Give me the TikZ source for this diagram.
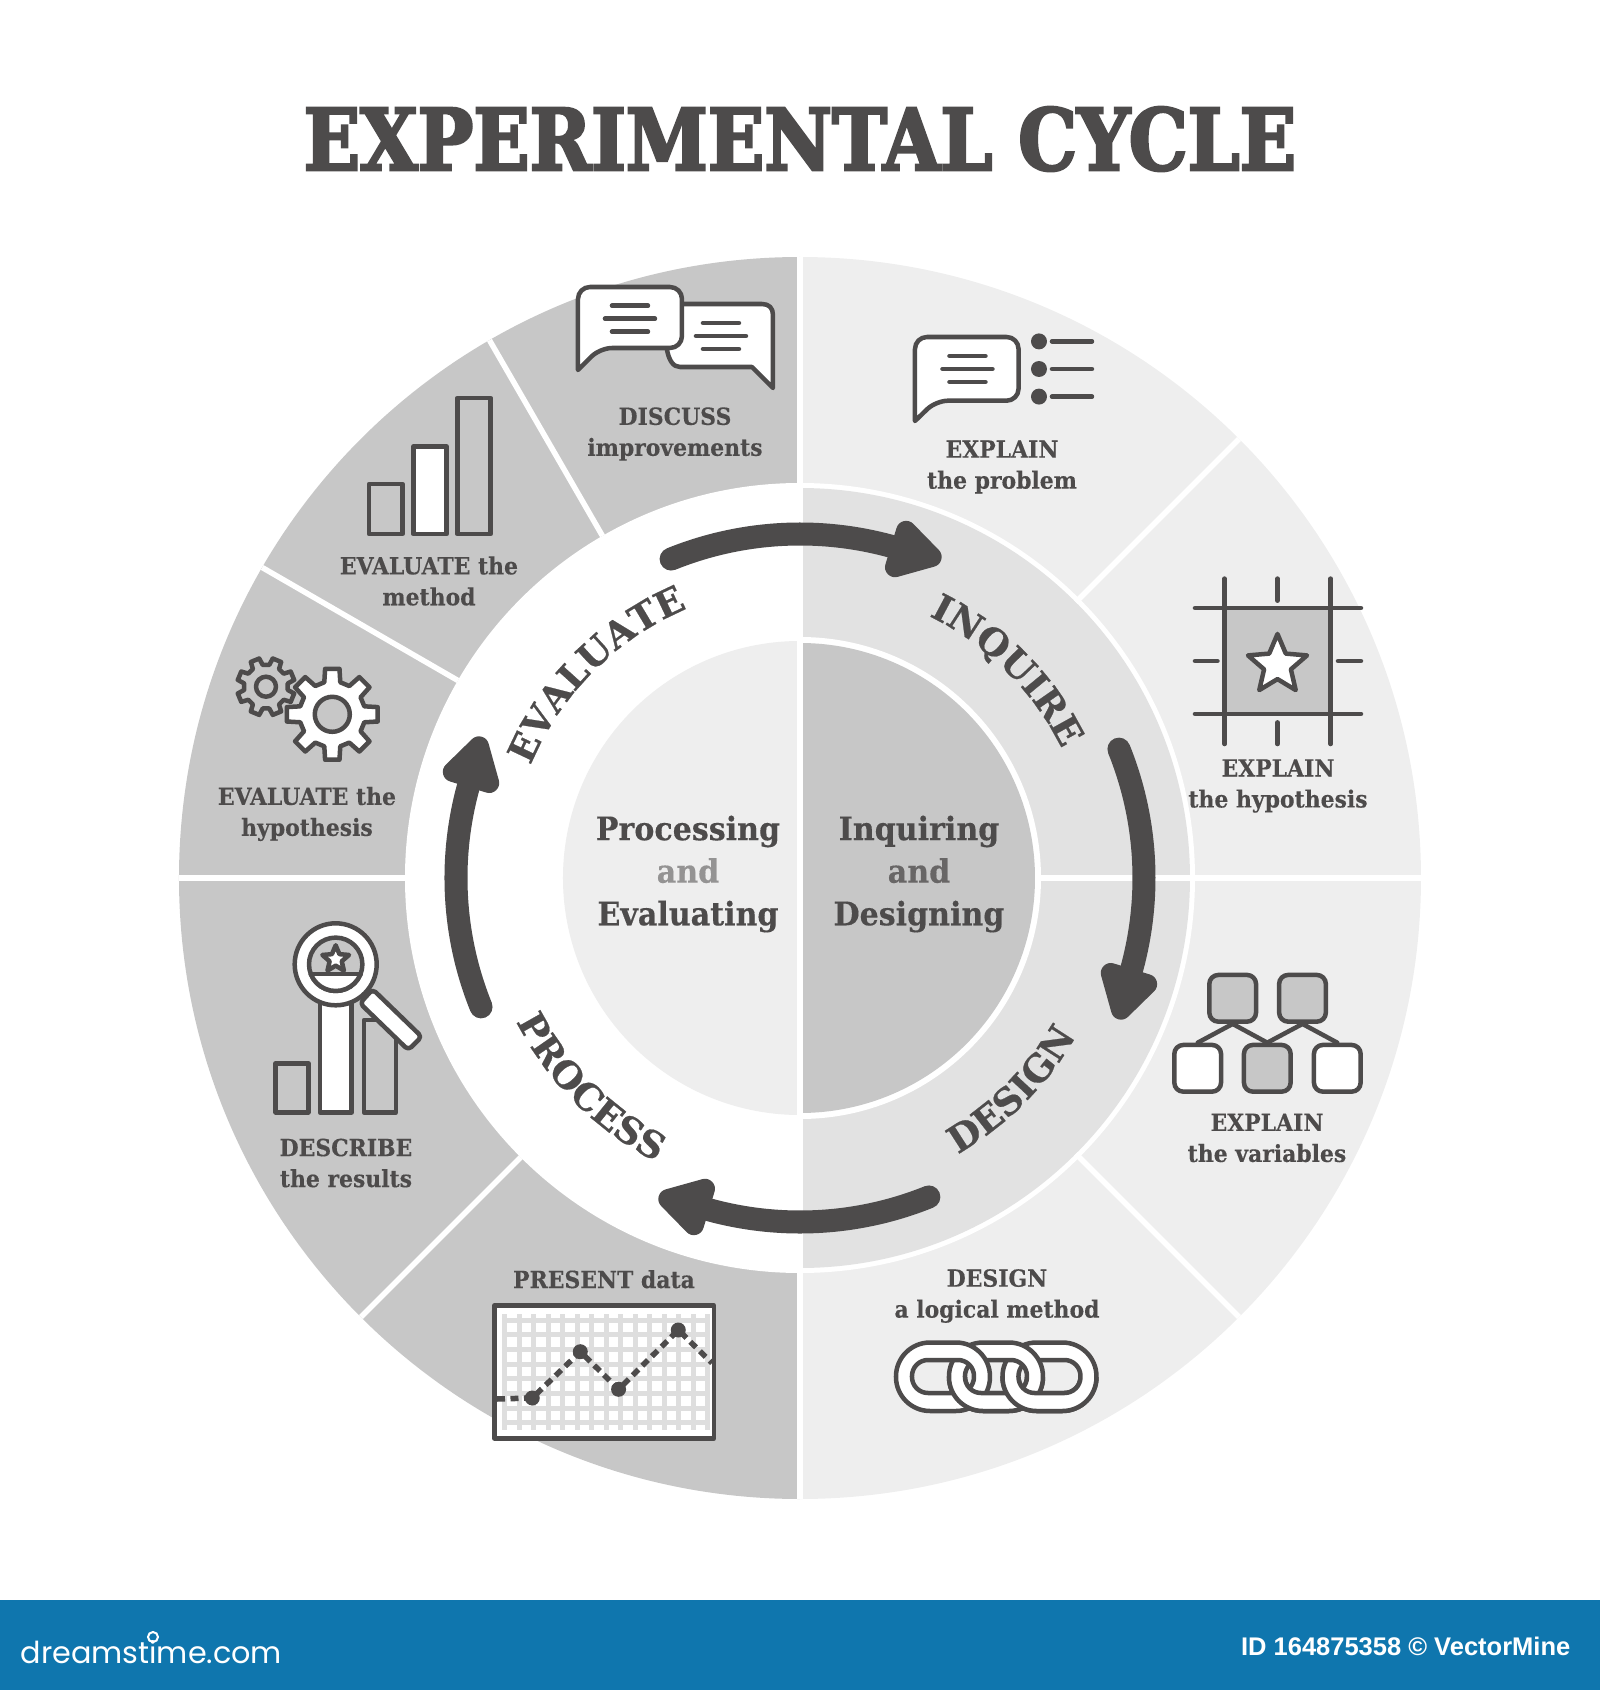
\documentclass[tikz,border=0pt]{standalone}
\usepackage{fontspec}
\usetikzlibrary{shapes.geometric,decorations.text}
\newfontfamily\slabfont{DejaVu Serif Bold}[FakeStretch=0.93,FakeBold=0.3]
\newfontfamily\titlefont{DejaVu Serif Bold}[FakeStretch=0.87,FakeBold=3]
\newfontfamily\stagefont{DejaVu Serif Bold}[FakeBold=0.6]
\newfontfamily\footfont{Liberation Sans Bold}
\newfontfamily\brandfont{Poppins}
\definecolor{inkgrey}{HTML}{4D4B4B}
\definecolor{panelgrey}{HTML}{C7C7C7}
\definecolor{ringgrey}{HTML}{E2E2E2}
\definecolor{palegrey}{HTML}{EEEEEE}
\definecolor{gridgrey}{HTML}{DEDEDE}
\definecolor{barblue}{HTML}{0F76AE}
\newcommand{\bubblelines}[2]{
  \draw[iconline] (#1-18,#2-13) -- (#1+18,#2-13);
  \draw[iconline] (#1-25,#2) -- (#1+25,#2);
  \draw[iconline] (#1-18,#2+13) -- (#1+18,#2+13);
}
\newcommand{\gearshape}[7]{
  \draw[iconline,fill=#7,shift={(#1,#2)}] (#6-14:#4)
    \foreach \a in {0,45,...,315} { -- ({\a+#6-14}:#4) -- ({\a+#6-9}:#3) -- ({\a+#6+9}:#3) -- ({\a+#6+14}:#4) } -- cycle;
  \draw[iconline,fill=panelgrey] (#1,#2) circle (#5);
}
\newcommand{\chainlink}[1]{
  \draw[iconline,fill=white,even odd rule] [rounded corners=3.4mm] (#1,1342.5) rectangle (#1+94,1411)
    [rounded corners=1.6mm] (#1+16,1360) rectangle (#1+78,1393);
}
\begin{document}
\begin{tikzpicture}[x=0.01cm,y=0.01cm]
    \tikzstyle{every node}=[text=inkgrey,inner sep=0pt]
    \tikzstyle{pxgrid}=[shift={(-800,878)},yscale=-1]
    \tikzstyle{iconline}=[draw=inkgrey,line width=.45mm,line join=round,line cap=round]
    \tikzstyle{gapline}=[draw=white,line width=.55mm]
    \tikzstyle{steplabel}=[align=center,font=\slabfont\fontsize{6.7}{8.8}\selectfont]
    \tikzstyle{midlabel}=[align=center,font=\slabfont\fontsize{9.2}{12.1}\selectfont]
    \tikzstyle{varbox}=[iconline,rounded corners=.9mm,minimum size=4.67mm,inner sep=0pt]
    \useasboundingbox (-800,-812) rectangle (800,878);
    \fill[panelgrey] (0,0) -- (90:621) arc (90:270:621) -- cycle;
    \fill[palegrey] (0,0) -- (90:621) arc (90:-90:621) -- cycle;
    \fill[white] (0,0) circle (395);
    \fill[ringgrey] (0,0) -- (90:390) arc (90:-90:390) -- cycle;
    \fill[white] (0,0) circle (241);
    \fill[palegrey] (0,0) -- (90:237) arc (90:270:237) -- cycle;
    \fill[panelgrey] (0,0) -- (90:235) arc (90:-90:235) -- cycle;
    \draw[gapline] (0,-621) -- (0,621);
    \draw[gapline] (237,0) -- (621,0);
    \foreach \b in {45,-45} \draw[gapline] (\b:390) -- (\b:621);
    \foreach \b in {120,150,180,225} \draw[gapline] (\b:395) -- (\b:621);
    \foreach \a in {112,22,-68,-158} {
        \draw[draw=inkgrey,line width=2.3mm,line cap=round] ({\a}:344) arc ({\a}:{\a-38}:344);
        \draw[draw=inkgrey,fill=inkgrey,line width=2mm,line join=round] ({\a-39}:325) -- ({\a-39}:363) -- ({\a-44.3}:347) -- cycle;
    }
    \path[decorate,decoration={text along path,text align=center,text={|\stagefont\fontsize{10.5}{12}\selectfont\color{inkgrey}|INQUIRE}}] (85:292) arc (85:5:292);
    \path[decorate,decoration={text along path,text align=center,text={|\stagefont\fontsize{10.5}{12}\selectfont\color{inkgrey}|EVALUATE}}] (175:292) arc (175:95:292);
    \path[decorate,decoration={text along path,text align=center,text={|\stagefont\fontsize{10.5}{12}\selectfont\color{inkgrey}|DESIGN}}] (-85:318) arc (-85:-5:318);
    \path[decorate,decoration={text along path,text align=center,text={|\stagefont\fontsize{10.5}{12}\selectfont\color{inkgrey}|PROCESS}}] (185:318) arc (185:265:318);
    \begin{scope}[pxgrid]
        \node[anchor=base,font=\titlefont\fontsize{24.2}{28}\selectfont] (title) at (800,170) {EXPERIMENTAL CYCLE};
        \node[midlabel] (processing) at (688,874) {Processing\\{\color{inkgrey!60}and}\\Evaluating};
        \node[midlabel] (inquiring) at (919,874) {Inquiring\\{\color{inkgrey!85}and}\\Designing};
        \node[steplabel] (discuss) at (675,434) {DISCUSS\\improvements};
        \node[steplabel] (problem) at (1002,467) {EXPLAIN\\the problem};
        \node[steplabel] (hypothesis) at (1278,786) {EXPLAIN\\the hypothesis};
        \node[steplabel] (variables) at (1267,1138) {EXPLAIN\\the variables};
        \node[steplabel] (logical) at (997,1296) {DESIGN\\a logical method};
        \node[steplabel,anchor=base] (present) at (604,1288) {PRESENT data};
        \node[steplabel] (results) at (346,1163) {DESCRIBE\\the results};
        \node[steplabel] (evalhyp) at (307,814) {EVALUATE the\\hypothesis};
        \node[steplabel] (evalmethod) at (429,581) {EVALUATE the\\method};
        \draw[iconline,fill=white] (682,304) -- (762,304) .. controls (769,304) and (773,308) .. (773,315) -- (773,388) -- (752,367) -- (680,367) .. controls (673,367) and (669,360) .. (667,350) -- cycle;
        \draw[iconline,fill=white] (578,370) -- (578,300) [rounded corners=1.2mm] -- (578,287) -- (682,287) -- (682,348) -- (600,348) [sharp corners] -- (578,370) -- cycle;
        \bubblelines{630}{318.7}
        \bubblelines{721}{336}
        \draw[iconline,fill=white] (915,421) -- (915,350) [rounded corners=1.2mm] -- (915,337) -- (1018.6,337) -- (1018.6,400.7) -- (936,400.7) [sharp corners] -- (915,421) -- cycle;
        \bubblelines{967.5}{369}
        \foreach \y in {341.4,369,396.6} {
            \fill[inkgrey] (1039,\y) circle (8);
            \draw[iconline] (1052,\y) -- (1092,\y);
        }
        \fill[panelgrey] (1224.6,608) rectangle (1330.7,713.8);
        \draw[iconline] (1224.6,578.6) -- (1224.6,744);
        \draw[iconline] (1330.7,578.6) -- (1330.7,744);
        \draw[iconline] (1195,608) -- (1361,608);
        \draw[iconline] (1195,713.8) -- (1361,713.8);
        \draw[iconline] (1277.5,578.6) -- (1277.5,600.7);
        \draw[iconline] (1277.5,722.4) -- (1277.5,744);
        \draw[iconline] (1195,661) -- (1217.5,661);
        \draw[iconline] (1338,661) -- (1361,661);
        \node[star,star points=5,star point ratio=2.2,minimum size=6.2mm,iconline,fill=white] (bigstar) at (1277.5,665) {};
        \node[varbox,fill=panelgrey] (top1) at (1232.7,998.3) {};
        \node[varbox,fill=panelgrey] (top2) at (1302.5,998.3) {};
        \node[varbox,fill=white] (low1) at (1197.7,1068.3) {};
        \node[varbox,fill=panelgrey] (low2) at (1267.3,1068.3) {};
        \node[varbox,fill=white] (low3) at (1337.3,1068.3) {};
        \draw[iconline] (top1.south) -- (low1.north);
        \draw[iconline] (top1.south) -- (low2.north);
        \draw[iconline] (top2.south) -- (low2.north);
        \draw[iconline] (top2.south) -- (low3.north);
        \chainlink{1002.5}
        \chainlink{949}
        \chainlink{896}
        \begin{scope}
            \clip (890,1377) rectangle (1105,1420);
            \chainlink{949}
            \chainlink{1002.5}
        \end{scope}
        \draw[iconline,fill=white] (494.4,1305.7) rectangle (714,1438.3);
        \foreach \k in {0,...,14} \draw[gridgrey,line width=.5mm] (505+14.5*\k,1314) -- (505+14.5*\k,1430);
        \foreach \k in {0,...,7} \draw[gridgrey,line width=.5mm] (502,1320+14.7*\k) -- (708,1320+14.7*\k);
        \draw[inkgrey,line width=.55mm,dash pattern=on .8mm off .55mm] (497,1399) -- (532.3,1398) -- (580.3,1351.7) -- (618.6,1389.3) -- (678.3,1330) -- (712,1363);
        \foreach \x/\y in {532.3/1398,580.3/1351.7,618.6/1389.3,678.3/1330} \fill[inkgrey] (\x,\y) circle (7.5);
        \draw[iconline] (275.7,1063.3) rectangle (308.3,1112.3);
        \draw[iconline,fill=white] (320,1000) rectangle (351.7,1112.3);
        \draw[iconline] (364,1020) rectangle (396,1112.3);
        \draw[iconline,fill=white,rounded corners=.4mm] (372.7,989.3) -- (421.7,1036.7) -- (408.3,1050) -- (360,1003.3) -- cycle;
        \draw[iconline,fill=white] (335.7,964.3) circle (41);
        \draw[iconline,fill=panelgrey] (335.7,964.3) circle (26.7);
        \begin{scope}
            \clip (300,974) rectangle (372,1000);
            \draw[iconline,fill=white] (335.7,964.3) circle (26.7);
        \end{scope}
        \draw[iconline] (310.8,974) -- (360.6,974);
        \node[star,star points=5,star point ratio=2.2,minimum size=2.8mm,iconline,fill=white] (lensstar) at (335.7,959.3) {};
        \draw[iconline] (369,484) rectangle (402.3,534);
        \draw[iconline,fill=white] (413.3,446.7) rectangle (446.7,534);
        \draw[iconline] (457.3,398) rectangle (490.7,534);
        \gearshape{266}{686.7}{29}{22}{10}{22.5}{panelgrey}
        \gearshape{332.3}{714.3}{46}{33}{17.5}{0}{white}
        \fill[barblue] (0,1600) rectangle (1600,1690);
        \node[anchor=base west,text=white,font=\brandfont\fontsize{8.6}{11}\selectfont] (brand) at (20,1663) {dreamstime.com};
        \draw[white,line width=.2mm] (153,1637) circle (5);
        \node[anchor=base east,text=white,font=\footfont\fontsize{7.25}{8}\selectfont] (credit) at (1571,1655) {ID 164875358 © VectorMine};
    \end{scope}
\end{tikzpicture}
\end{document}
